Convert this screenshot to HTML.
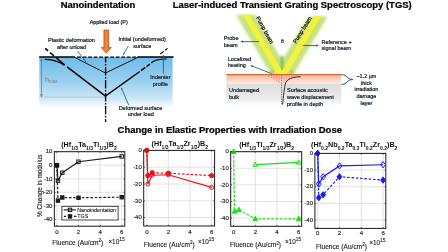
<!DOCTYPE html>
<html lang="en"><head><meta charset="utf-8"><title>Graphical abstract</title>
<style>html,body{margin:0;padding:0;background:#fff;}body{width:448px;height:252px;overflow:hidden;}svg{display:block;}text{font-family:"Liberation Sans", sans-serif;}</style></head><body>
<svg width="448" height="252" viewBox="0 0 448 252">
<defs>
<linearGradient id="gBlue" x1="0" y1="0" x2="0" y2="1"><stop offset="0" stop-color="#6fbce8"/><stop offset="0.45" stop-color="#97ceee"/><stop offset="0.8" stop-color="#c9e6f6"/><stop offset="1" stop-color="#ffffff"/></linearGradient>
<linearGradient id="gDam" x1="0" y1="0" x2="0" y2="1"><stop offset="0" stop-color="#f7b999"/><stop offset="1" stop-color="#fbe9e1"/></linearGradient>
<linearGradient id="gBulk" x1="0" y1="0" x2="0" y2="1"><stop offset="0" stop-color="#dcdcdc"/><stop offset="0.7" stop-color="#ececec"/><stop offset="1" stop-color="#ffffff"/></linearGradient>
<linearGradient id="gOr" x1="0" y1="0" x2="1" y2="0"><stop offset="0" stop-color="#e8601c"/><stop offset="0.5" stop-color="#f9863a"/><stop offset="1" stop-color="#e8601c"/></linearGradient>
<filter id="bl" x="-20%" y="-20%" width="140%" height="140%"><feGaussianBlur stdDeviation="1.2"/></filter>
<filter id="bl2" x="-20%" y="-20%" width="140%" height="140%"><feGaussianBlur stdDeviation="0.55"/></filter>
</defs>
<rect width="448" height="252" fill="#fff"/>
<text x="60.7" y="7.8" font-size="9.46" text-anchor="start" font-weight="bold" fill="#000" stroke="#000" stroke-width="0.22" >Nanoindentation</text>
<text x="172.7" y="7.75" font-size="9.46" text-anchor="start" font-weight="bold" fill="#000" stroke="#000" stroke-width="0.22" >Laser-induced Transient Grating Spectroscopy (TGS)</text>
<text x="117.6" y="132.9" font-size="9.46" text-anchor="start" font-weight="bold" fill="#000" stroke="#000" stroke-width="0.22" >Change in Elastic Properties with Irradiation Dose</text>
<g id="nano">
<rect x="39.3" y="57" width="133.3" height="51" fill="url(#gBlue)"/>
<g stroke="#66737c" stroke-width="0.7" fill="none"><path d="M41.5 59V96.3"/><path d="M39.3 97H105" stroke="#9db4c2" stroke-width="0.6"/><path d="M40.3 61.2L41.5 58.6L42.7 61.2M40.3 94.1L41.5 96.7L42.7 94.1" stroke-width="0.6"/></g>
<text x="45" y="81.8" font-size="7.2" fill="#70808b">h<tspan font-size="4.5" dy="1.2">max</tspan></text>
<g stroke="#000" fill="none" stroke-linecap="butt">
<path d="M39.2 57.1H74.8M137.6 57.1H173.6" stroke-width="1.5"/>
<path d="M77.1 57.1H137" stroke-width="1.4" stroke-dasharray="3.8 1.72"/>
<path d="M74 57.1L105.5 73L138.4 57.1" stroke-width="0.9"/>
<path d="M45.2 48.4L48 50.9M50 52.7L54.1 56M56.3 57.9L64.7 65.1" stroke-width="1.5"/><path d="M167.6 48.4L165.3 50.2M163.7 51.4L160.3 54" stroke-width="1.1"/>
<path d="M44.7 59.4C48 59.5 50.5 59.7 52.4 60.1C55.5 60.8 58 61.7 60.2 62.8L64.4 65.2" stroke-width="1.2"/>
<path d="M166.6 59C163 59.1 159.8 59.3 157.6 59.8C155.6 60.4 153.3 61.3 150.9 62.9" stroke-width="1.2"/>
<path d="M149.9 64.2L146.5 66.5M145.3 67.3L140.9 70.6" stroke-width="1.5"/>
<path d="M67.1 66.8L105.4 96.2L139.8 71.5" stroke-width="1.45" stroke-linejoin="miter"/>
<path d="M105.6 57V122" stroke-width="1.35" stroke-dasharray="8.5 1.5 1.5 1.5" stroke-dashoffset="3.1"/>
</g>
<path d="M103.9 30H108.7V47.4H111.3L106.3 53.2L101.2 47.4H103.9Z" fill="url(#gOr)" stroke="#8a3f18" stroke-width="0.6"/>
<g stroke="#16618f" stroke-width="0.85" fill="#16618f">
<path d="M77.7 51.0L85.1 60.8"/><path d="M86.4 62.6L84.4 61.4L85.8 60.3Z" stroke="none"/>
<path d="M128.3 45.8L124.1 53.3"/><path d="M123.0 55.2L123.3 52.8L124.9 53.7Z" stroke="none"/>
<path d="M163.4 73.5L163.4 56.4"/><path d="M163.4 54.2L164.3 56.4L162.5 56.4Z" stroke="none"/>
<path d="M128.7 105.1L122.1 89.6"/><path d="M121.2 87.6L122.9 89.3L121.2 90.0Z" stroke="none"/>
</g>
<text x="108.7" y="24.2" font-size="5.35" text-anchor="middle" font-weight="normal" fill="#15202b" stroke="#15202b" stroke-width="0.22" >Applied load (P)</text>
<text x="71.5" y="42.3" font-size="5.5" text-anchor="middle" font-weight="normal" fill="#15202b" stroke="#15202b" stroke-width="0.22" >Plastic deformation</text>
<text x="71.5" y="48.5" font-size="5.5" text-anchor="middle" font-weight="normal" fill="#15202b" stroke="#15202b" stroke-width="0.22" >after unload</text>
<text x="142.2" y="41.4" font-size="5.5" text-anchor="middle" font-weight="normal" fill="#15202b" stroke="#15202b" stroke-width="0.22" >Initial (undeformed)</text>
<text x="142.3" y="47.9" font-size="5.5" text-anchor="middle" font-weight="normal" fill="#15202b" stroke="#15202b" stroke-width="0.22" >surface</text>
<text x="160.4" y="78.7" font-size="5.5" text-anchor="middle" font-weight="normal" fill="#15202b" stroke="#15202b" stroke-width="0.22" >Indenter</text>
<text x="160.3" y="85.5" font-size="5.5" text-anchor="middle" font-weight="normal" fill="#15202b" stroke="#15202b" stroke-width="0.22" >profile</text>
<text x="140.5" y="110.0" font-size="5.5" text-anchor="middle" font-weight="normal" fill="#15202b" stroke="#15202b" stroke-width="0.22" >Deformed surface</text>
<text x="140.8" y="116.3" font-size="5.5" text-anchor="middle" font-weight="normal" fill="#15202b" stroke="#15202b" stroke-width="0.22" >under load</text>
</g>
<g id="tgs">
<rect x="226.3" y="83.4" width="115" height="22.5" fill="url(#gBulk)"/>
<rect x="226.3" y="74.7" width="115" height="8.9" fill="url(#gDam)"/>
<filter id="bl3" x="-30%" y="-30%" width="160%" height="160%"><feGaussianBlur stdDeviation="1.7"/></filter>
<clipPath id="cpB"><rect x="220" y="0" width="130" height="74.6"/></clipPath>
<g clip-path="url(#cpB)">
<g filter="url(#bl3)">
<path d="M236.0 15.0H255.4L290.5 74.6H271.1Z" fill="#c4e07e"/>
<path d="M308.2 16.7H327.6L293.1 74.6H273.7Z" fill="#c4e07e"/>
</g>
<g filter="url(#bl)">
<path d="M238.7 15.6H252.7L287.8 74.6H273.8Z" fill="#cbe584" opacity="0.6"/>
<path d="M311 17.1H325L291.4 74.6H277.4Z" fill="#cbe584" opacity="0.6"/>
<path d="M282 56V74.5" stroke="#7cbc42" stroke-width="2.8"/><path d="M272.6 70V74.5M291.6 70V74.5" stroke="#8cc653" stroke-width="2.2"/>
</g>
<g filter="url(#bl2)"><path d="M242.6 14.4H248.8L284.2 74.4H277.4Z M314.7 16.1H321.1L286.9 74.4H279.9Z" fill="#f3f338"/></g>
</g>
<rect x="226.3" y="74.15" width="115" height="1.1" fill="#d6541c"/>
<rect x="268.55" y="75.2" width="1.1" height="1.9" fill="#ee5a48" opacity="0.5"/>
<rect x="271.05" y="75.2" width="1.1" height="2.9" fill="#ee5a48" opacity="0.5"/>
<rect x="273.55" y="75.2" width="1.1" height="4.4" fill="#ee5a48" opacity="0.5"/>
<rect x="276.05" y="75.2" width="1.1" height="6.3" fill="#ee5a48" opacity="0.5"/>
<rect x="278.55" y="75.2" width="1.1" height="7.9" fill="#ee5a48" opacity="0.5"/>
<rect x="283.55" y="75.2" width="1.1" height="7.9" fill="#ee5a48" opacity="0.38"/>
<rect x="286.05" y="75.2" width="1.1" height="6.3" fill="#ee5a48" opacity="0.38"/>
<rect x="288.55" y="75.2" width="1.1" height="4.4" fill="#ee5a48" opacity="0.38"/>
<rect x="291.05" y="75.2" width="1.1" height="2.9" fill="#ee5a48" opacity="0.38"/>
<rect x="293.55" y="75.2" width="1.1" height="1.9" fill="#ee5a48" opacity="0.38"/>
<path d="M281.6 75.5V105" stroke="#333" stroke-width="0.6" stroke-dasharray="1.4 0.9" fill="none"/>
<path d="M300.6 76.7C293 77 287 78.5 285.3 84C284.3 88 283.5 96 282.6 104.5" stroke="#1a1a1a" stroke-width="0.9" fill="none"/>
<path d="M341.5 74.6C347.5 74.8 346.5 79.2 352.8 79.5C346.5 79.8 347.5 84.3 341.5 84.5" stroke="#1f4e6e" stroke-width="0.95" fill="none"/>
<g stroke="#1f5577" stroke-width="0.85" fill="#1f5577">
<path d="M259.2 41.6L243.0 41.6"/><path d="M240.4 41.6L243.0 40.4L243.0 42.8Z" stroke="none"/>
<path d="M303.0 45.5L316.2 45.5"/><path d="M318.8 45.5L316.2 46.7L316.2 44.3Z" stroke="none"/>
<path d="M271.5 73.6L252.7 66.3"/><path d="M250.3 65.4L253.2 65.2L252.3 67.5Z" stroke="none"/>
</g>
<text x="223.8" y="40.4" font-size="5.5" text-anchor="start" font-weight="normal" fill="#15202b" stroke="#15202b" stroke-width="0.22" >Probe</text>
<text x="223.8" y="46.9" font-size="5.5" text-anchor="start" font-weight="normal" fill="#15202b" stroke="#15202b" stroke-width="0.22" >beam</text>
<text x="227.8" y="60.9" font-size="5.5" text-anchor="start" font-weight="normal" fill="#15202b" stroke="#15202b" stroke-width="0.22" >Localized</text>
<text x="227.8" y="67.2" font-size="5.5" text-anchor="start" font-weight="normal" fill="#15202b" stroke="#15202b" stroke-width="0.22" >heating</text>
<text x="321.5" y="43.8" font-size="5.5" text-anchor="start" font-weight="normal" fill="#15202b" stroke="#15202b" stroke-width="0.22" >Reference +</text>
<text x="321.5" y="50.4" font-size="5.5" text-anchor="start" font-weight="normal" fill="#15202b" stroke="#15202b" stroke-width="0.22" >signal beam</text>
<text x="229" y="92.3" font-size="5.5" text-anchor="start" font-weight="normal" fill="#15202b" stroke="#15202b" stroke-width="0.22" >Undamaged</text>
<text x="229" y="99.1" font-size="5.5" text-anchor="start" font-weight="normal" fill="#15202b" stroke="#15202b" stroke-width="0.22" >bulk</text>
<text x="287" y="92.1" font-size="5.5" text-anchor="start" font-weight="normal" fill="#15202b" stroke="#15202b" stroke-width="0.22" >Surface acoustic</text>
<text x="287" y="99.2" font-size="5.5" text-anchor="start" font-weight="normal" fill="#15202b" stroke="#15202b" stroke-width="0.22" >wave displacement</text>
<text x="287" y="106.3" font-size="5.5" text-anchor="start" font-weight="normal" fill="#15202b" stroke="#15202b" stroke-width="0.22" >profile in depth</text>
<text x="366.4" y="77.9" font-size="5.45" text-anchor="middle" font-weight="normal" fill="#15202b" stroke="#15202b" stroke-width="0.22" >~1.2 µm</text>
<text x="366.4" y="84.60000000000001" font-size="5.45" text-anchor="middle" font-weight="normal" fill="#15202b" stroke="#15202b" stroke-width="0.22" >thick</text>
<text x="366.4" y="91.30000000000001" font-size="5.45" text-anchor="middle" font-weight="normal" fill="#15202b" stroke="#15202b" stroke-width="0.22" >irradiation</text>
<text x="366.4" y="98.0" font-size="5.45" text-anchor="middle" font-weight="normal" fill="#15202b" stroke="#15202b" stroke-width="0.22" >damage</text>
<text x="366.4" y="104.7" font-size="5.45" text-anchor="middle" font-weight="normal" fill="#15202b" stroke="#15202b" stroke-width="0.22" >layer</text>
<text x="282.4" y="42.8" font-size="5" text-anchor="middle" font-weight="normal" fill="#15202b" stroke="#15202b" stroke-width="0.22" >θ</text>
<text x="0" y="0" font-size="5.6" text-anchor="middle" font-weight="normal" fill="#10180a" stroke="#10180a" stroke-width="0.22" transform="translate(263.2,31.0) rotate(61)">Pump beam</text>
<text x="0" y="0" font-size="5.6" text-anchor="middle" font-weight="normal" fill="#10180a" stroke="#10180a" stroke-width="0.22" transform="translate(304.0,31.0) rotate(-58)">Pump beam</text>
</g>
<g>
<path d="M56.90 151.7V226.2M78.50 151.7V226.2M100.10 151.7V226.2M121.70 151.7V226.2M54.35 151.70H124.8M54.35 165.25H124.8M54.35 178.79H124.8M54.35 192.34H124.8M54.35 205.88H124.8M54.35 219.43H124.8" stroke="#dadada" stroke-width="0.8" fill="none"/>
<rect x="54.35" y="151.7" width="70.45" height="74.50" fill="none" stroke="#1a1a1a" stroke-width="1.0"/>
<path d="M56.90 165.25L57.98 180.69L62.30 172.70L78.50 161.72L121.70 156.44" stroke="#1a1a1a" stroke-width="1.15" fill="none"/>
<path d="M56.90 165.25L57.98 200.60L62.30 197.48L78.50 197.75L121.70 197.21" stroke="#1a1a1a" stroke-width="1.15" fill="none" stroke-dasharray="2.6 1.7"/>
<rect x="55.20" y="163.55" width="3.4" height="3.4" fill="#1a1a1a" stroke="#1a1a1a" stroke-width="1.0"/>
<rect x="56.28" y="178.99" width="3.4" height="3.4" fill="none" stroke="#1a1a1a" stroke-width="1.0"/>
<rect x="60.60" y="171.00" width="3.4" height="3.4" fill="none" stroke="#1a1a1a" stroke-width="1.0"/>
<rect x="76.80" y="160.02" width="3.4" height="3.4" fill="none" stroke="#1a1a1a" stroke-width="1.0"/>
<rect x="120.00" y="154.74" width="3.4" height="3.4" fill="none" stroke="#1a1a1a" stroke-width="1.0"/>
<rect x="55.20" y="163.55" width="3.4" height="3.4" fill="#1a1a1a" stroke="#1a1a1a" stroke-width="1.0"/>
<rect x="56.28" y="198.90" width="3.4" height="3.4" fill="#1a1a1a" stroke="#1a1a1a" stroke-width="1.0"/>
<rect x="60.60" y="195.78" width="3.4" height="3.4" fill="#1a1a1a" stroke="#1a1a1a" stroke-width="1.0"/>
<rect x="76.80" y="196.05" width="3.4" height="3.4" fill="#1a1a1a" stroke="#1a1a1a" stroke-width="1.0"/>
<rect x="120.00" y="195.51" width="3.4" height="3.4" fill="#1a1a1a" stroke="#1a1a1a" stroke-width="1.0"/>
<path d="M56.90 226.2v-1.3M56.90 151.7v1.3M78.50 226.2v-1.3M78.50 151.7v1.3M100.10 226.2v-1.3M100.10 151.7v1.3M121.70 226.2v-1.3M121.70 151.7v1.3M54.35 151.70h1.3M124.8 151.70h-1.3M54.35 165.25h1.3M124.8 165.25h-1.3M54.35 178.79h1.3M124.8 178.79h-1.3M54.35 192.34h1.3M124.8 192.34h-1.3M54.35 205.88h1.3M124.8 205.88h-1.3M54.35 219.43h1.3M124.8 219.43h-1.3" stroke="#1a1a1a" stroke-width="0.6" fill="none"/>
<text x="56.90" y="233.90" font-size="6.0" text-anchor="middle" font-weight="normal" fill="#222" stroke="#222" stroke-width="0.15" >0</text>
<text x="78.50" y="233.90" font-size="6.0" text-anchor="middle" font-weight="normal" fill="#222" stroke="#222" stroke-width="0.15" >2</text>
<text x="100.10" y="233.90" font-size="6.0" text-anchor="middle" font-weight="normal" fill="#222" stroke="#222" stroke-width="0.15" >4</text>
<text x="121.70" y="233.90" font-size="6.0" text-anchor="middle" font-weight="normal" fill="#222" stroke="#222" stroke-width="0.15" >6</text>
<text x="52.45" y="153.45" font-size="6.0" text-anchor="end" font-weight="normal" fill="#222" stroke="#222" stroke-width="0.15" >10</text>
<text x="52.45" y="167.00" font-size="6.0" text-anchor="end" font-weight="normal" fill="#222" stroke="#222" stroke-width="0.15" >0</text>
<text x="52.45" y="180.54" font-size="6.0" text-anchor="end" font-weight="normal" fill="#222" stroke="#222" stroke-width="0.15" >-10</text>
<text x="52.45" y="194.09" font-size="6.0" text-anchor="end" font-weight="normal" fill="#222" stroke="#222" stroke-width="0.15" >-20</text>
<text x="52.45" y="207.63" font-size="6.0" text-anchor="end" font-weight="normal" fill="#222" stroke="#222" stroke-width="0.15" >-30</text>
<text x="52.45" y="221.18" font-size="6.0" text-anchor="end" font-weight="normal" fill="#222" stroke="#222" stroke-width="0.15" >-40</text>
<text x="61.2" y="147.0" font-size="7.2" font-weight="bold" fill="#111"><tspan>(Hf</tspan><tspan font-size="5.04" dy="3.0">1/3</tspan><tspan dy="-3.0">Ta</tspan><tspan font-size="5.04" dy="3.0">1/3</tspan><tspan dy="-3.0">Ti</tspan><tspan font-size="5.04" dy="3.0">1/3</tspan><tspan dy="-3.0">)B</tspan><tspan font-size="5.04" dy="3.0">2</tspan></text>
<text x="52.3" y="245" font-size="6.6" fill="#222" stroke="#222" stroke-width="0.12">Fluence (Au/cm<tspan font-size="4.6" dy="-2.6">2</tspan><tspan dy="2.6">)</tspan></text>
<text x="108.4" y="243.9" font-size="6.4" fill="#222" stroke="#222" stroke-width="0.1">×10<tspan font-size="4.8" dy="-2.9">15</tspan></text>
<text font-size="6.4" fill="#222" stroke="#222" stroke-width="0.12" text-anchor="middle" transform="translate(41.55,185.7) rotate(-90)">% Change in modulus</text>
</g>
<g><rect x="61.9" y="206.3" width="56.2" height="13.7" fill="#fff" stroke="#1a1a1a" stroke-width="0.8"/>
<path d="M63.7 209.9H76" stroke="#1a1a1a" stroke-width="1.1"/>
<rect x="68.30" y="208.20" width="3.4" height="3.4" fill="none" stroke="#1a1a1a" stroke-width="1.0"/>
<path d="M63.9 216.4H66M74 216.4H76.4" stroke="#1a1a1a" stroke-width="1.1"/>
<rect x="68.30" y="214.70" width="3.4" height="3.4" fill="#1a1a1a" stroke="#1a1a1a" stroke-width="1.0"/>
<text x="77.3" y="211.8" font-size="5.3" text-anchor="start" font-weight="normal" fill="#111" stroke="#111" stroke-width="0.08" >Nanoindentation</text>
<text x="77.3" y="218.3" font-size="5.3" text-anchor="start" font-weight="normal" fill="#111" stroke="#111" stroke-width="0.08" >TGS</text>
</g>
<g>
<path d="M146.80 150.4V226.0M168.40 150.4V226.0M190.00 150.4V226.0M211.60 150.4V226.0M143.7 150.40H214.6M143.7 167.20H214.6M143.7 184.00H214.6M143.7 200.80H214.6M143.7 217.60H214.6" stroke="#dadada" stroke-width="0.8" fill="none"/>
<rect x="143.7" y="150.4" width="70.90" height="75.60" fill="none" stroke="#1a1a1a" stroke-width="1.0"/>
<path d="M146.80 150.40L147.88 184.00L152.20 175.26L168.40 174.76L211.60 187.36" stroke="#e8111a" stroke-width="1.15" fill="none"/>
<path d="M146.80 150.40L147.88 175.60L152.20 172.74L168.40 173.25L211.60 175.60" stroke="#e8111a" stroke-width="1.15" fill="none" stroke-dasharray="2.6 1.7"/>
<circle cx="146.80" cy="150.40" r="2.15" fill="#e8111a" stroke="#e8111a" stroke-width="1.0"/>
<circle cx="147.88" cy="184.00" r="2.0" fill="none" stroke="#e8111a" stroke-width="1.0"/>
<circle cx="152.20" cy="175.26" r="2.0" fill="none" stroke="#e8111a" stroke-width="1.0"/>
<circle cx="168.40" cy="174.76" r="2.0" fill="none" stroke="#e8111a" stroke-width="1.0"/>
<circle cx="211.60" cy="187.36" r="2.0" fill="none" stroke="#e8111a" stroke-width="1.0"/>
<circle cx="146.80" cy="150.40" r="2.15" fill="#e8111a" stroke="#e8111a" stroke-width="1.0"/>
<circle cx="147.88" cy="175.60" r="2.15" fill="#e8111a" stroke="#e8111a" stroke-width="1.0"/>
<circle cx="152.20" cy="172.74" r="2.15" fill="#e8111a" stroke="#e8111a" stroke-width="1.0"/>
<circle cx="168.40" cy="173.25" r="2.15" fill="#e8111a" stroke="#e8111a" stroke-width="1.0"/>
<circle cx="211.60" cy="175.60" r="2.15" fill="#e8111a" stroke="#e8111a" stroke-width="1.0"/>
<path d="M146.80 226.0v-1.3M146.80 150.4v1.3M168.40 226.0v-1.3M168.40 150.4v1.3M190.00 226.0v-1.3M190.00 150.4v1.3M211.60 226.0v-1.3M211.60 150.4v1.3M143.7 150.40h1.3M214.6 150.40h-1.3M143.7 167.20h1.3M214.6 167.20h-1.3M143.7 184.00h1.3M214.6 184.00h-1.3M143.7 200.80h1.3M214.6 200.80h-1.3M143.7 217.60h1.3M214.6 217.60h-1.3" stroke="#1a1a1a" stroke-width="0.6" fill="none"/>
<text x="146.80" y="233.70" font-size="6.0" text-anchor="middle" font-weight="normal" fill="#222" stroke="#222" stroke-width="0.15" >0</text>
<text x="168.40" y="233.70" font-size="6.0" text-anchor="middle" font-weight="normal" fill="#222" stroke="#222" stroke-width="0.15" >2</text>
<text x="190.00" y="233.70" font-size="6.0" text-anchor="middle" font-weight="normal" fill="#222" stroke="#222" stroke-width="0.15" >4</text>
<text x="211.60" y="233.70" font-size="6.0" text-anchor="middle" font-weight="normal" fill="#222" stroke="#222" stroke-width="0.15" >6</text>
<text x="141.80" y="152.15" font-size="6.0" text-anchor="end" font-weight="normal" fill="#222" stroke="#222" stroke-width="0.15" >0</text>
<text x="141.80" y="168.95" font-size="6.0" text-anchor="end" font-weight="normal" fill="#222" stroke="#222" stroke-width="0.15" >-10</text>
<text x="141.80" y="185.75" font-size="6.0" text-anchor="end" font-weight="normal" fill="#222" stroke="#222" stroke-width="0.15" >-20</text>
<text x="141.80" y="202.55" font-size="6.0" text-anchor="end" font-weight="normal" fill="#222" stroke="#222" stroke-width="0.15" >-30</text>
<text x="141.80" y="219.35" font-size="6.0" text-anchor="end" font-weight="normal" fill="#222" stroke="#222" stroke-width="0.15" >-40</text>
<text x="151.6" y="146.2" font-size="7.2" font-weight="bold" fill="#111"><tspan>(Hf</tspan><tspan font-size="5.04" dy="3.0">1/3</tspan><tspan dy="-3.0">Ta</tspan><tspan font-size="5.04" dy="3.0">1/3</tspan><tspan dy="-3.0">Zr</tspan><tspan font-size="5.04" dy="3.0">1/3</tspan><tspan dy="-3.0">)B</tspan><tspan font-size="5.04" dy="3.0">2</tspan></text>
<text x="143.8" y="246.8" font-size="6.6" fill="#222" stroke="#222" stroke-width="0.12">Fluence (Au/cm<tspan font-size="4.6" dy="-2.6">2</tspan><tspan dy="2.6">)</tspan></text>
<text x="198.0" y="243.5" font-size="6.4" fill="#222" stroke="#222" stroke-width="0.1">×10<tspan font-size="4.8" dy="-2.9">15</tspan></text>
</g>
<g>
<path d="M233.60 151.7V226.3M255.30 151.7V226.3M277.00 151.7V226.3M298.70 151.7V226.3M230.7 151.70H301.7M230.7 168.28H301.7M230.7 184.86H301.7M230.7 201.43H301.7M230.7 218.01H301.7" stroke="#dadada" stroke-width="0.8" fill="none"/>
<rect x="230.7" y="151.7" width="71.00" height="74.60" fill="none" stroke="#1a1a1a" stroke-width="1.0"/>
<path d="M255.30 164.63L298.70 162.31" stroke="#19e019" stroke-width="1.15" fill="none"/>
<path d="M233.60 151.70L234.69 211.38L239.03 209.72L255.30 218.84L298.70 218.84" stroke="#19e019" stroke-width="1.15" fill="none" stroke-dasharray="2.6 1.7"/>
<path d="M255.30 162.13L257.67 166.38L252.92 166.38Z" fill="none" stroke="#19e019" stroke-width="1.0" stroke-linejoin="miter"/>
<path d="M298.70 159.81L301.07 164.06L296.32 164.06Z" fill="none" stroke="#19e019" stroke-width="1.0" stroke-linejoin="miter"/>
<path d="M233.60 149.20L235.97 153.45L231.22 153.45Z" fill="#19e019" stroke="#19e019" stroke-width="1.0" stroke-linejoin="miter"/>
<path d="M234.69 208.88L237.06 213.13L232.31 213.13Z" fill="#19e019" stroke="#19e019" stroke-width="1.0" stroke-linejoin="miter"/>
<path d="M239.03 207.22L241.40 211.47L236.65 211.47Z" fill="#19e019" stroke="#19e019" stroke-width="1.0" stroke-linejoin="miter"/>
<path d="M255.30 216.34L257.67 220.59L252.92 220.59Z" fill="#19e019" stroke="#19e019" stroke-width="1.0" stroke-linejoin="miter"/>
<path d="M298.70 216.34L301.07 220.59L296.32 220.59Z" fill="#19e019" stroke="#19e019" stroke-width="1.0" stroke-linejoin="miter"/>
<path d="M233.60 226.3v-1.3M233.60 151.7v1.3M255.30 226.3v-1.3M255.30 151.7v1.3M277.00 226.3v-1.3M277.00 151.7v1.3M298.70 226.3v-1.3M298.70 151.7v1.3M230.7 151.70h1.3M301.7 151.70h-1.3M230.7 168.28h1.3M301.7 168.28h-1.3M230.7 184.86h1.3M301.7 184.86h-1.3M230.7 201.43h1.3M301.7 201.43h-1.3M230.7 218.01h1.3M301.7 218.01h-1.3" stroke="#1a1a1a" stroke-width="0.6" fill="none"/>
<text x="233.60" y="234.00" font-size="6.0" text-anchor="middle" font-weight="normal" fill="#222" stroke="#222" stroke-width="0.15" >0</text>
<text x="255.30" y="234.00" font-size="6.0" text-anchor="middle" font-weight="normal" fill="#222" stroke="#222" stroke-width="0.15" >2</text>
<text x="277.00" y="234.00" font-size="6.0" text-anchor="middle" font-weight="normal" fill="#222" stroke="#222" stroke-width="0.15" >4</text>
<text x="298.70" y="234.00" font-size="6.0" text-anchor="middle" font-weight="normal" fill="#222" stroke="#222" stroke-width="0.15" >6</text>
<text x="228.80" y="153.45" font-size="6.0" text-anchor="end" font-weight="normal" fill="#222" stroke="#222" stroke-width="0.15" >0</text>
<text x="228.80" y="170.03" font-size="6.0" text-anchor="end" font-weight="normal" fill="#222" stroke="#222" stroke-width="0.15" >-10</text>
<text x="228.80" y="186.61" font-size="6.0" text-anchor="end" font-weight="normal" fill="#222" stroke="#222" stroke-width="0.15" >-20</text>
<text x="228.80" y="203.18" font-size="6.0" text-anchor="end" font-weight="normal" fill="#222" stroke="#222" stroke-width="0.15" >-30</text>
<text x="228.80" y="219.76" font-size="6.0" text-anchor="end" font-weight="normal" fill="#222" stroke="#222" stroke-width="0.15" >-40</text>
<text x="239.2" y="147.0" font-size="7.2" font-weight="bold" fill="#111"><tspan>(Hf</tspan><tspan font-size="5.04" dy="3.0">1/3</tspan><tspan dy="-3.0">Ti</tspan><tspan font-size="5.04" dy="3.0">1/3</tspan><tspan dy="-3.0">Zr</tspan><tspan font-size="5.04" dy="3.0">1/3</tspan><tspan dy="-3.0">)B</tspan><tspan font-size="5.04" dy="3.0">2</tspan></text>
<text x="230" y="247.2" font-size="6.6" fill="#222" stroke="#222" stroke-width="0.12">Fluence (Au/cm<tspan font-size="4.6" dy="-2.6">2</tspan><tspan dy="2.6">)</tspan></text>
<text x="285.0" y="243.5" font-size="6.4" fill="#222" stroke="#222" stroke-width="0.1">×10<tspan font-size="4.8" dy="-2.9">15</tspan></text>
</g>
<g>
<path d="M317.70 153.4V228.4M339.50 153.4V228.4M361.30 153.4V228.4M383.10 153.4V228.4M314.9 153.40H385.8M314.9 170.07H385.8M314.9 186.73H385.8M314.9 203.40H385.8M314.9 220.07H385.8" stroke="#dadada" stroke-width="0.8" fill="none"/>
<rect x="314.9" y="153.4" width="70.90" height="75.00" fill="none" stroke="#1a1a1a" stroke-width="1.0"/>
<path d="M317.70 153.40L318.79 184.07L323.15 176.73L339.50 165.90L383.10 164.73" stroke="#1a1aee" stroke-width="1.15" fill="none"/>
<path d="M317.70 153.40L318.79 197.73L323.15 194.73L339.50 176.73L383.10 180.07" stroke="#1a1aee" stroke-width="1.15" fill="none" stroke-dasharray="2.6 1.7"/>
<path d="M317.70 150.30L320.12 153.40L317.70 156.50L315.28 153.40Z" fill="#1a1aee" stroke="#1a1aee" stroke-width="1.0"/>
<path d="M318.79 180.97L321.21 184.07L318.79 187.17L316.37 184.07Z" fill="none" stroke="#1a1aee" stroke-width="1.0"/>
<path d="M323.15 173.63L325.57 176.73L323.15 179.83L320.73 176.73Z" fill="none" stroke="#1a1aee" stroke-width="1.0"/>
<path d="M339.50 162.80L341.92 165.90L339.50 169.00L337.08 165.90Z" fill="none" stroke="#1a1aee" stroke-width="1.0"/>
<path d="M383.10 161.63L385.52 164.73L383.10 167.83L380.68 164.73Z" fill="none" stroke="#1a1aee" stroke-width="1.0"/>
<path d="M317.70 150.30L320.12 153.40L317.70 156.50L315.28 153.40Z" fill="#1a1aee" stroke="#1a1aee" stroke-width="1.0"/>
<path d="M318.79 194.63L321.21 197.73L318.79 200.83L316.37 197.73Z" fill="#1a1aee" stroke="#1a1aee" stroke-width="1.0"/>
<path d="M323.15 191.63L325.57 194.73L323.15 197.83L320.73 194.73Z" fill="#1a1aee" stroke="#1a1aee" stroke-width="1.0"/>
<path d="M339.50 173.63L341.92 176.73L339.50 179.83L337.08 176.73Z" fill="#1a1aee" stroke="#1a1aee" stroke-width="1.0"/>
<path d="M383.10 176.97L385.52 180.07L383.10 183.17L380.68 180.07Z" fill="#1a1aee" stroke="#1a1aee" stroke-width="1.0"/>
<path d="M317.70 228.4v-1.3M317.70 153.4v1.3M339.50 228.4v-1.3M339.50 153.4v1.3M361.30 228.4v-1.3M361.30 153.4v1.3M383.10 228.4v-1.3M383.10 153.4v1.3M314.9 153.40h1.3M385.8 153.40h-1.3M314.9 170.07h1.3M385.8 170.07h-1.3M314.9 186.73h1.3M385.8 186.73h-1.3M314.9 203.40h1.3M385.8 203.40h-1.3M314.9 220.07h1.3M385.8 220.07h-1.3" stroke="#1a1a1a" stroke-width="0.6" fill="none"/>
<text x="317.70" y="235.30" font-size="6.0" text-anchor="middle" font-weight="normal" fill="#222" stroke="#222" stroke-width="0.15" >0</text>
<text x="339.50" y="235.30" font-size="6.0" text-anchor="middle" font-weight="normal" fill="#222" stroke="#222" stroke-width="0.15" >2</text>
<text x="361.30" y="235.30" font-size="6.0" text-anchor="middle" font-weight="normal" fill="#222" stroke="#222" stroke-width="0.15" >4</text>
<text x="383.10" y="235.30" font-size="6.0" text-anchor="middle" font-weight="normal" fill="#222" stroke="#222" stroke-width="0.15" >6</text>
<text x="313.00" y="155.15" font-size="6.0" text-anchor="end" font-weight="normal" fill="#222" stroke="#222" stroke-width="0.15" >0</text>
<text x="313.00" y="171.82" font-size="6.0" text-anchor="end" font-weight="normal" fill="#222" stroke="#222" stroke-width="0.15" >-10</text>
<text x="313.00" y="188.48" font-size="6.0" text-anchor="end" font-weight="normal" fill="#222" stroke="#222" stroke-width="0.15" >-20</text>
<text x="313.00" y="205.15" font-size="6.0" text-anchor="end" font-weight="normal" fill="#222" stroke="#222" stroke-width="0.15" >-30</text>
<text x="313.00" y="221.82" font-size="6.0" text-anchor="end" font-weight="normal" fill="#222" stroke="#222" stroke-width="0.15" >-40</text>
<text x="311.1" y="146.9" font-size="7.2" font-weight="bold" fill="#111"><tspan>(Hf</tspan><tspan font-size="5.04" dy="3.0">0.2</tspan><tspan dy="-3.0">Nb</tspan><tspan font-size="5.04" dy="3.0">0.2</tspan><tspan dy="-3.0">Ta</tspan><tspan font-size="5.04" dy="3.0">0.2</tspan><tspan dy="-3.0">Ti</tspan><tspan font-size="5.04" dy="3.0">0.2</tspan><tspan dy="-3.0">Zr</tspan><tspan font-size="5.04" dy="3.0">0.2</tspan><tspan dy="-3.0">)B</tspan><tspan font-size="5.04" dy="3.0">2</tspan></text>
<text x="316" y="248.8" font-size="6.6" fill="#222" stroke="#222" stroke-width="0.12">Fluence (Au/cm<tspan font-size="4.6" dy="-2.6">2</tspan><tspan dy="2.6">)</tspan></text>
<text x="369.2" y="244.5" font-size="6.4" fill="#222" stroke="#222" stroke-width="0.1">×10<tspan font-size="4.8" dy="-2.9">15</tspan></text>
</g>
</svg></body></html>
